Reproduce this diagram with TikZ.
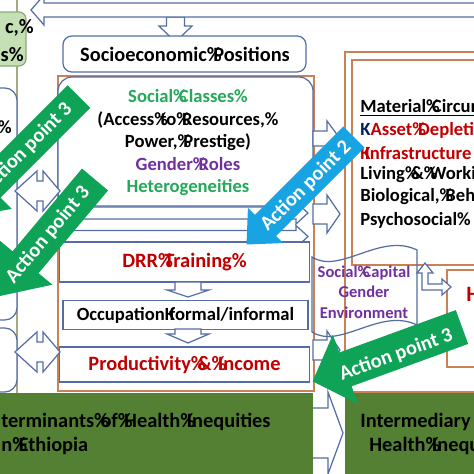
\documentclass[tikz,border=0pt]{standalone}
\usepackage{fontspec}
\setmainfont{Carlito}
\definecolor{boxblue}{RGB}{84,110,165}
\definecolor{frameorange}{RGB}{200,130,85}
\definecolor{apgreen}{RGB}{14,163,86}
\definecolor{apblue}{RGB}{24,164,226}
\definecolor{leafgreen}{RGB}{197,224,180}
\definecolor{leafedge}{RGB}{140,170,120}
\definecolor{sdhgreen}{RGB}{84,128,52}
\definecolor{txtgreen}{RGB}{36,168,90}
\definecolor{txtpurple}{RGB}{112,48,160}
\definecolor{txtred}{RGB}{192,0,0}
\definecolor{txtnavy}{RGB}{0,32,96}
\definecolor{colline}{RGB}{165,170,130}
\newdimen\px \px=0.02cm
\newcommand\pcov{\%\kern-0.42em}
\newcommand\blockarrow[7]{\draw[#7,shift={#1},rotate=#2] (0,-#5) -- (#3,-#5) -- (#3,-#6) -- ({#3+#4},0) -- (#3,#6) -- (#3,#5) -- (0,#5) -- cycle;}
\newcommand\lrarrow[1]{\draw[frame,fill=white,shift={#1}] (-22,0) -- (0,-20) -- (0,-10) -- (6,-10) -- (6,-20) -- (23,0) -- (6,20) -- (6,10) -- (0,10) -- (0,20) -- cycle;}
\tikzset{
  frame/.style={draw=boxblue, line width=0.7pt},
  panel/.style={draw=frameorange, line width=0.7pt},
  wbox/.style={frame, fill=white},
  whitearrow/.style={frame, fill=white},
  greenarrow/.style={draw=none, fill=apgreen},
  bluearrow/.style={draw=none, fill=apblue},
  aptext/.style={text=white, font=\bfseries\fontsize{11.6}{13}\selectfont},
  bigtext/.style={font=\bfseries\fontsize{11.6}{13.6}\selectfont},
}

\begin{document}
\begin{tikzpicture}[x=0.02cm, y=-0.02cm,
  every node/.style={inner sep=0pt, font=\bfseries\fontsize{10.6}{12.8}\selectfont}]
\useasboundingbox (0,0) rectangle (474,474);
\clip (0,0) rectangle (474,474);
\fill[white] (0,0) rectangle (474,474);

\draw[panel] (58,76) rectangle (314,391);
\draw[panel] (345,52) rectangle (490,392);
\draw[panel] (352,60) rectangle (490,265);
\draw[panel] (447,270) rectangle (490,367);

\draw[colline, line width=0.7pt] (17,-5) -- (17,393);
\draw[frame, fill=white, rounded corners=7pt] (-20,88) rectangle (17,320);
\draw[frame, fill=white, rounded corners=7pt] (-20,328) rectangle (17,392);
\draw[draw=leafedge, fill=leafgreen, line width=0.7pt, rounded corners=4pt] (-20,12) rectangle (26,66);
\node[anchor=east, bigtext] (leafa) at (34,28) {c,\%};
\node[anchor=east, bigtext] (leafb) at (24,55) {s\%};
\node[anchor=east] (leftpc) at (12,127) {\%};

\blockarrow{(175.5,17)}{270}{9}{16}{9}{16.5}{whitearrow}
\blockarrow{(490,10)}{180}{446}{13}{7}{15}{whitearrow}

\draw[frame, fill=white, rounded corners=5pt] (63,36) rectangle (306,72);
\node[bigtext] (positions) at (185,54) {Socioeconomic\pcov Positions};

\blockarrow{(58,213)}{0}{238}{12}{6}{11}{whitearrow}
\blockarrow{(58,236.5)}{0}{238}{12}{6}{11}{whitearrow}

\draw[frame, fill=white, rounded corners=8pt] (58,77) rectangle (313,206);
\node[align=center] (classes) at (188,143) {\textcolor{txtgreen}{Social\pcov Classes\%}\\
  (Access\pcov to\pcov Resources,\%\\
  Power,\pcov Prestige)\\
  \textcolor{txtpurple}{Gender\pcov Roles}\\
  \textcolor{txtgreen}{Heterogeneities}};

\blockarrow{(313,138.5)}{0}{14}{13}{7.5}{17.5}{whitearrow}
\blockarrow{(313,214)}{0}{14}{13}{10}{19}{whitearrow}
\blockarrow{(313,350)}{0}{14}{13}{10}{19}{whitearrow}

\node[wbox, minimum width=250*\px, minimum height=40*\px, text=txtred, bigtext] (drr) at (184.5,262) {DRR\pcov Training\%};
\node[wbox, minimum width=245*\px, minimum height=29*\px] (occupation) at (185.5,315) {OccupationK\kern-0.3em formal/informal};
\node[wbox, minimum width=250*\px, minimum height=35*\px, text=txtred, bigtext] (income) at (184.5,364.5) {Productivity\pcov\&\pcov Income};
\blockarrow{(188,282)}{270}{8}{7}{13}{21}{whitearrow}
\blockarrow{(188,329)}{270}{5}{9}{13}{21}{whitearrow}

\draw[frame] (312,257) .. controls (340,275) and (380,232) .. (417,250) -- (417,325) .. controls (380,307) and (340,350) .. (312,332) -- cycle;
\node[align=center, text=txtpurple, font=\bfseries\fontsize{9.4}{11.6}\selectfont] (capital) at (364,292) {Social\pcov Capital\\Gender\\Environment};
\draw[whitearrow] (422,273) -- (417,273) -- (425,263) -- (433,273) -- (428,273) -- (428,284) -- (442,284) -- (442,279) -- (451,287) -- (442,295) -- (442,290) -- (422,290) -- cycle;
\node[anchor=west, text=txtred, font=\bfseries\fontsize{12.5}{14}\selectfont] (hlabel) at (466,294) {H};

\node[anchor=west] (material) at (360,108) {\underline{Material\pcov Circum}};
\node[anchor=west] (asset) at (360,130) {\textcolor{txtnavy}{K}\textcolor{txtred}{Asset\pcov Depleti}};
\node[anchor=west, text=txtred] (infra) at (360,153) {K\kern-0.3em Infrastructure};
\node[anchor=west] (living) at (360,175) {Living\pcov\&\pcov Worki};
\node[anchor=west] (biological) at (360,197) {Biological,\pcov Beh};
\node[anchor=west] (psycho) at (360,220) {Psychosocial\%};

\lrarrow{(37,191)}
\lrarrow{(37,352)}

\blockarrow{(300,433)}{0}{28}{15}{25}{41}{whitearrow}
\fill[sdhgreen] (-5,393) rectangle (313,480);
\fill[sdhgreen] (345,393) rectangle (490,480);
\node[anchor=west, align=left, bigtext] (structural) at (1,434) {terminants\pcov of\pcov Health\pcov Inequities\\n\pcov Ethiopia};
\node[anchor=west, bigtext] (intermediary) at (360,422) {Intermediary};
\node[anchor=west, bigtext] (healthineq) at (369,446) {Health\pcov Inequ};

\blockarrow{(79,96.5)}{225}{127}{45}{16}{32}{greenarrow}
\node[aptext, rotate=45] (apthreea) at (27,148) {Action point 3};
\blockarrow{(95,179.5)}{230}{108}{45}{17}{35}{greenarrow}
\node[aptext, rotate=50] (apthreeb) at (48,235) {Action point 3};
\blockarrow{(354,137)}{225}{125}{27}{15}{25}{bluearrow}
\node[aptext, rotate=45] (aptwo) at (306,186) {Action point 2};
\blockarrow{(462,327)}{200}{124}{35}{18}{37}{greenarrow}
\node[aptext, rotate=20] (apthreec) at (396,355) {Action point 3};
\end{tikzpicture}
\end{document}
